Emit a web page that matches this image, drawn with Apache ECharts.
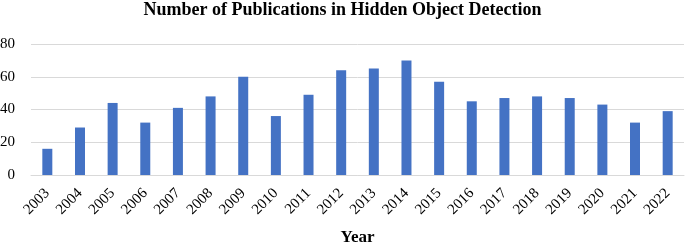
<!DOCTYPE html>
<html><head><meta charset="utf-8">
<script src="https://cdn.jsdelivr.net/npm/echarts@6/dist/echarts.min.js"></script>
<style>html,body{margin:0;padding:0;background:#fff}#c{width:685px;height:242px}</style>
</head><body><div id="c"></div>
<script>
var years = ["2003","2004","2005","2006","2007","2008","2009","2010","2011","2012","2013","2014","2015","2016","2017","2018","2019","2020","2021","2022"];
var publications = [16,29,44,32,41,48,60,36,49,64,65,70,57,45,47,48,47,43,32,39];
var yTicks = [0,20,40,60,80];
var titleText = "Number of Publications in Hidden Object Detection";
var xName = "Year";

var chart = echarts.init(document.getElementById('c'), null, {renderer:'canvas'});
var serif = "'Liberation Serif','Times New Roman',serif";
chart.setOption({
  animation:false,
  title:{text:titleText,left:'center',top:-4,textStyle:{fontFamily:serif,fontWeight:'bold',fontSize:18,color:'#000'}},
  grid:{left:31,right:1,top:44,bottom:67,containLabel:false,outerBoundsMode:'none'},
  xAxis:{type:'category',data:years,name:xName,nameLocation:'middle',nameGap:54,
    nameTextStyle:{fontFamily:serif,fontWeight:'bold',fontSize:17,color:'#000'},
    axisLine:{lineStyle:{color:'#d9d9d9',width:1}},axisTick:{show:false},
    axisLabel:{rotate:45,interval:0,fontFamily:serif,fontSize:15,color:'#000',margin:16}},
  yAxis:{type:'value',min:yTicks[0],max:yTicks[yTicks.length-1],interval:20,
    axisLine:{show:false},axisTick:{show:false},
    splitLine:{lineStyle:{color:'#d9d9d9',width:1}},
    axisLabel:{fontFamily:serif,fontSize:15,color:'#000',margin:16}},
  series:[{type:'bar',data:publications,barWidth:10,itemStyle:{color:'#4472C4'}}]
});
</script></body></html>
